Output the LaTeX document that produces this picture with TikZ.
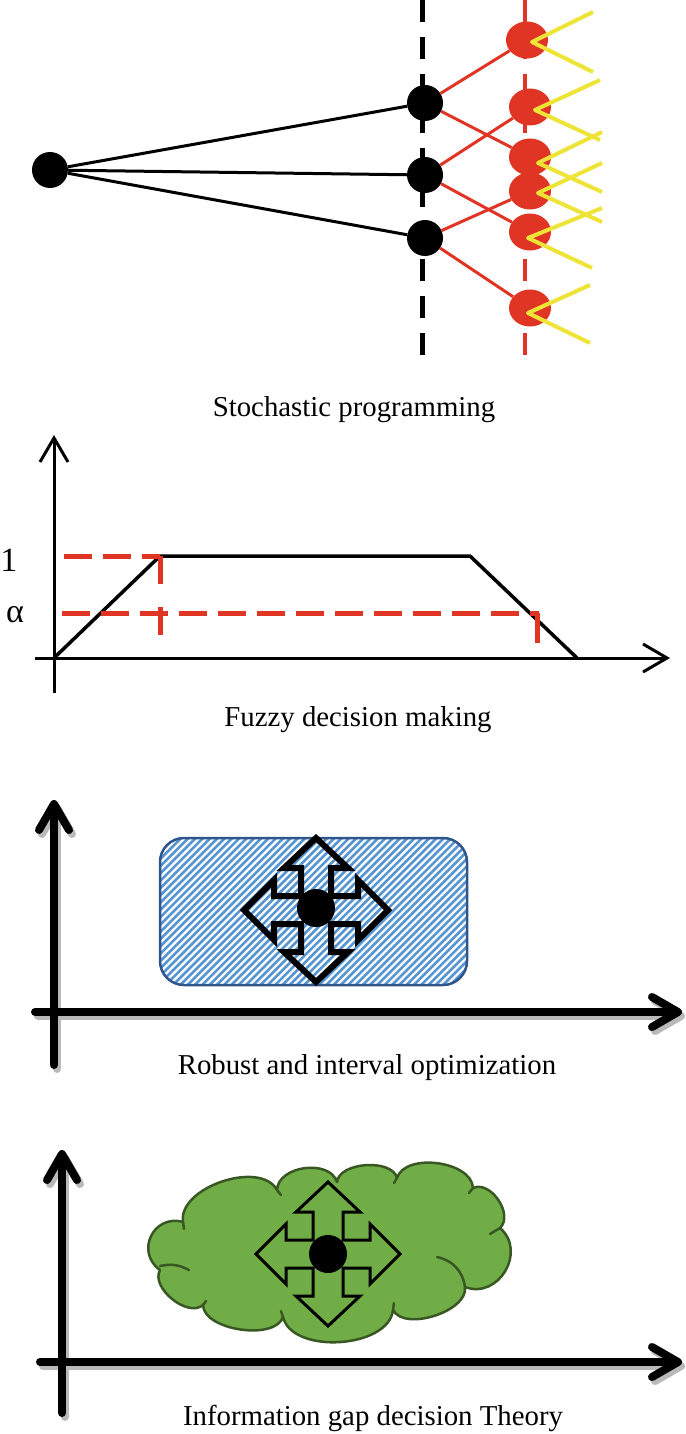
\documentclass[tikz,border=0pt]{standalone}
\usepackage{fontspec}
\setmainfont{Liberation Serif}
\usetikzlibrary{arrows.meta,positioning,shapes.geometric}

\definecolor{treered}{RGB}{224,52,36}
\definecolor{treeyellow}{RGB}{238,228,56}
\definecolor{stripeblue}{RGB}{88,150,210}
\definecolor{boxblue}{RGB}{47,85,140}
\definecolor{cloudgreen}{RGB}{112,173,71}
\definecolor{clouddark}{RGB}{56,87,35}
\definecolor{axisgray}{RGB}{185,185,185}

\tikzset{
  movecross/.pic={
    \draw[pic actions] (0,-72) -- (32,-42) -- (15,-42) -- (15,-14) -- (42,-14) -- (42,-30)
      -- (72,0) -- (42,30) -- (42,14) -- (15,14) -- (15,42) -- (32,42) -- (0,72)
      -- (-32,42) -- (-15,42) -- (-15,14) -- (-42,14) -- (-42,30) -- (-72,0)
      -- (-42,-30) -- (-42,-14) -- (-15,-14) -- (-15,-42) -- (-32,-42) -- cycle;
  },
  puff/.style={bend left=80,looseness=#1}
}

\begin{document}
\begin{tikzpicture}[x=1pt,y=-1pt,line join=round,
  caption/.style={inner sep=0pt,font=\fontsize{28.8}{34}\selectfont},
  axislabel/.style={inner sep=0pt,font=\fontsize{34}{40}\selectfont},
  blackdot/.style={circle,fill=black,inner sep=0pt,minimum size=36pt},
  reddot/.style={ellipse,fill=treered,inner sep=0pt,minimum width=42pt,minimum height=37pt},
  stagedash/.style={line width=5pt,dash pattern=on 22pt off 15pt},
  rootline/.style={line width=3pt},
  redline/.style={treered,line width=3pt},
  yline/.style={treeyellow,line width=4pt},
  fuzzyaxis/.style={line width=3pt,-{Straight Barb[length=24pt,width=28pt]}},
  cutline/.style={treered,line width=5pt,dash pattern=on 28pt off 11pt},
  stripe/.style={stripeblue,line width=2.6pt},
  thickaxis/.style={line width=8pt,line cap=round,-{Straight Barb[length=26pt,width=30pt,round]}},
  shadowaxis/.style={thickaxis,axisgray},
  cloudline/.style={clouddark,line width=2.5pt,line cap=round}]
\useasboundingbox (0,0) rectangle (685,1434);

% stochastic programming
\draw[stagedash] (422,0) -- (422,365);
\draw[stagedash,treered,line width=4pt] (525,0) -- (525,362);
\node[blackdot] (root) at (50,170) {};
\node[blackdot] (s1) at (425,103) {};
\node[blackdot] (s2) at (425,175) {};
\node[blackdot] (s3) at (425,238) {};
\node[reddot] (r1) at (527,40) {};
\node[reddot] (r2) at (530,107) {};
\node[reddot] (r4) at (530,191) {};
\node[reddot] (r3) at (530,157) {};
\node[reddot] (r5) at (530,232) {};
\node[reddot] (r6) at (530,308) {};
\foreach \s in {s1,s2,s3}
  \draw[rootline] (root) -- (\s);
\foreach \a/\b in {s1/r1,s1/r3,s2/r2,s2/r5,s3/r4,s3/r6}
  \draw[redline] (\a) -- (\b);
\coordinate (y1) at (532,42);
\coordinate (y2) at (535,110);
\coordinate (y3) at (538,163);
\coordinate (y4) at (538,193);
\coordinate (y5) at (528,238);
\coordinate (y6) at (528,313);
\foreach \v/\ux/\uy/\lx/\ly in {y1/61/-30/61/30,y2/65/-30/65/30,y3/64/-31/64/29,
    y4/64/-30/64/29,y5/74/-30/64/30,y6/62/-28/62/30}
  \draw[yline] (\v) ++(\ux,\uy) -- (\v) -- ++(\lx,\ly);
\node[caption] (capstoch) at (354,410) {Stochastic programming};

% fuzzy decision making
\draw[fuzzyaxis] (54,693) -- (54,435);
\draw[fuzzyaxis] (35,658) -- (670,658);
\draw[line width=3.5pt] (54,658) -- (160,556) -- (470,556) -- (577,658);
\draw[cutline] (64,556) -- (160,556);
\draw[cutline,dash pattern=on 28pt off 23pt] (160,556) -- (160,658);
\draw[cutline] (62,613) -- (539,613);
\draw[cutline,dash pattern=] (537,613) -- (537,643);
\node[axislabel] (lone) at (9,560) {1};
\node[axislabel] (lalpha) at (15,615) {α};
\node[caption] (capfuzzy) at (358,720) {Fuzzy decision making};

% robust and interval optimization
\begin{scope}[shift={(3,4)}]
  \draw[shadowaxis] (54,1065) -- (54,800);
  \draw[shadowaxis] (35,1012) -- (682,1012);
\end{scope}
\draw[thickaxis] (54,1065) -- (54,800);
\draw[thickaxis] (35,1012) -- (682,1012);
\fill[white,rounded corners=24pt] (160,838) rectangle (467,985);
\begin{scope}
  \clip[rounded corners=24pt] (160,838) rectangle (467,985);
  \foreach \k in {0,7.3,...,470}
    \draw[stripe] (\k,990) -- ++(160,-160);
\end{scope}
\draw[boxblue,line width=2.5pt,rounded corners=24pt] (160,838) rectangle (467,985);
\pic[line width=6pt,line join=miter] at (316,910) {movecross};
\node[circle,fill=black,inner sep=0pt,minimum size=38pt] (rdot) at (316,908) {};
\node[caption] (caprobust) at (367,1068) {Robust and interval optimization};

% information gap decision theory
\begin{scope}[shift={(3,4)}]
  \draw[shadowaxis] (62,1413) -- (62,1150);
  \draw[shadowaxis] (40,1362) -- (682,1362);
\end{scope}
\draw[thickaxis] (62,1413) -- (62,1150);
\draw[thickaxis] (40,1362) -- (682,1362);
\draw[cloudline,fill=cloudgreen]
  (183,1222) to[puff=0.9] (277,1190) to[puff=1.03] (337,1182)
  to[puff=0.86] (397,1178) to[puff=0.9] (473,1188) to[puff=1.03] (500,1228)
  to[puff=1.34] (465,1287) to[puff=0.83] (393,1310) to[puff=0.9] (283,1317)
  to[puff=0.8] (203,1305) to[puff=0.93] (160,1270) to[puff=1.48] (183,1222) -- cycle;
\draw[cloudline] (437,1257) to[bend left=35] (465,1287);
\draw[cloudline] (160,1266) to[bend left=20] (189,1270);
\draw[cloudline] (183,1222) -- ++(1,7);
\draw[cloudline] (277,1190) -- ++(4,5);
\draw[cloudline] (397,1178) -- ++(-3,5);
\draw[cloudline] (473,1188) -- ++(-4,5);
\draw[cloudline] (500,1228) -- ++(-10,6);
\draw[cloudline] (393,1310) -- ++(1,-7);
\draw[cloudline] (283,1317) -- ++(-2,-6);
\draw[cloudline] (203,1305) -- ++(3,-4);
\pic[line width=3pt,line join=miter] at (328,1254) {movecross};
\node[circle,fill=black,inner sep=0pt,minimum size=38pt] (idot) at (328,1254) {};
\node[caption] (capinfo) at (373,1418) {Information gap decision Theory};
\end{tikzpicture}
\end{document}
